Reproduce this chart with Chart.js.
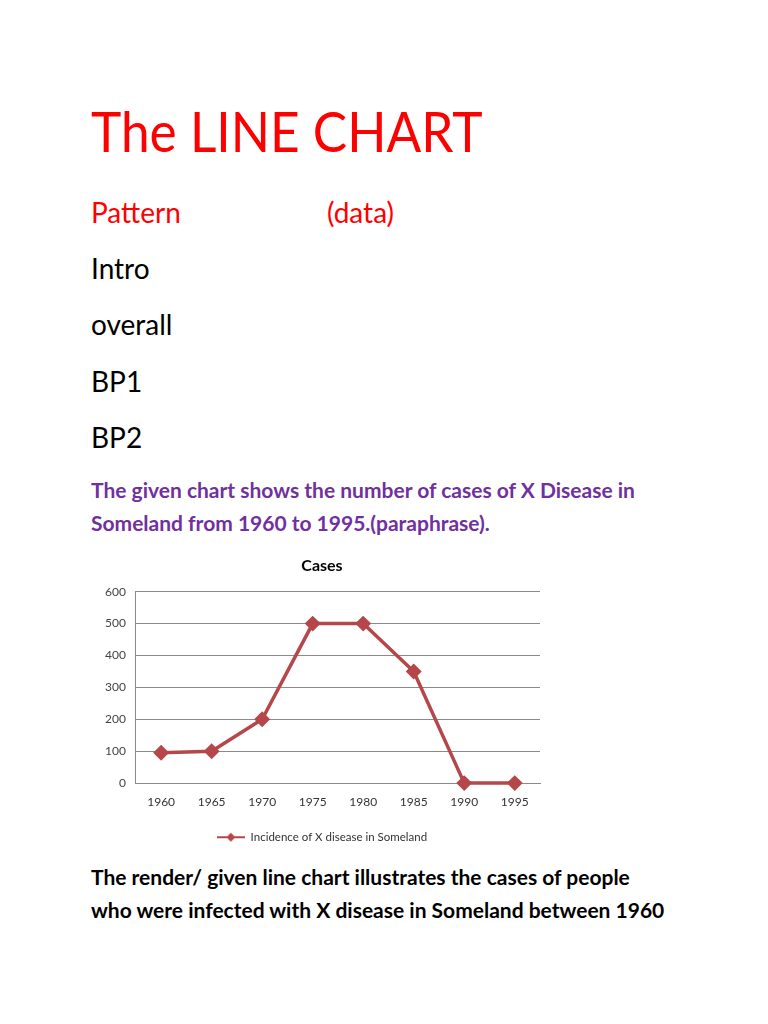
<!DOCTYPE html>
<html>
<head>
<meta charset="utf-8">
<script src="https://cdn.jsdelivr.net/npm/chart.js@4"></script>
<style>
  html, body { margin: 0; padding: 0; background: #fff; }
  body { width: 768px; height: 1024px; position: relative; overflow: hidden; font-family: Lato, "Open Sans", sans-serif; }
  .t { position: absolute; left: 91px; white-space: nowrap; line-height: 1; }
  #title { top: 103px; font-size: 56px; color: #ff0000; transform: scaleX(0.918); transform-origin: 0 0; }
  .red { color: #ff0000; font-size: 28px; }
  .blk { color: #000; font-size: 28px; }
  .pur { color: #7030a0; font-size: 21px; font-weight: bold; }
  .bold { color: #000; font-size: 21px; font-weight: bold; }
  #chartBox { position: absolute; left: 95px; top: 543.5px; width: 454px; height: 309px; }
</style>
</head>
<body>
<div id="title" class="t">The LINE CHART</div>
<div class="t red" style="top:198px;">Pattern</div>
<div class="t red" style="top:198px; left:327px;">(data)</div>
<div class="t blk" style="top:254px;">Intro</div>
<div class="t blk" style="top:310px;">overall</div>
<div class="t blk" style="top:367px;">BP1</div>
<div class="t blk" style="top:423px;">BP2</div>
<div class="t pur" style="top:479px;">The given chart shows the number of cases of X Disease in</div>
<div class="t pur" style="top:512px;">Someland from 1960 to 1995.(paraphrase).</div>
<div id="chartBox"><canvas id="c"></canvas></div>
<div class="t bold" style="top:866px;">The render/ given line chart illustrates the cases of people</div>
<div class="t bold" style="top:899px;">who were infected with X disease in Someland between 1960</div>
<script>
const years = ["1960", "1965", "1970", "1975", "1980", "1985", "1990", "1995"];
const cases = [95, 100, 200, 500, 500, 350, 0, 0];
const yTicks = [0, 100, 200, 300, 400, 500, 600];
const seriesName = "Incidence of X disease in Someland";
const lineColor = "#b5474a";

// legend icon: short line with a diamond
const icon = document.createElement('canvas');
icon.width = 28; icon.height = 12;
(function(){
  const g = icon.getContext('2d');
  g.strokeStyle = lineColor; g.lineWidth = 2;
  g.beginPath(); g.moveTo(0, 6); g.lineTo(28, 6); g.stroke();
  g.fillStyle = lineColor;
  g.beginPath(); g.moveTo(14, 1.5); g.lineTo(18.5, 6); g.lineTo(14, 10.5); g.lineTo(9.5, 6); g.closePath(); g.fill();
})();

Chart.defaults.font.family = 'Lato, "Open Sans", sans-serif';

new Chart(document.getElementById('c'), {
  type: 'line',
  data: {
    labels: years,
    datasets: [{
      label: seriesName,
      data: cases,
      borderColor: lineColor,
      backgroundColor: lineColor,
      borderWidth: 3.5,
      pointStyle: 'rectRot',
      pointRadius: 5.5,
      pointHoverRadius: 5.5,
      pointBackgroundColor: lineColor,
      pointBorderColor: lineColor,
      tension: 0,
      clip: false
    }]
  },
  options: {
    responsive: true,
    maintainAspectRatio: false,
    animation: false,
    layout: { padding: { left: 0, right: 0, top: 0, bottom: 0 } },
    plugins: {
      title: { display: true, text: 'Cases', color: '#000', font: { size: 16, weight: 'bold' }, padding: { top: 12.5, bottom: 16 } },
      legend: {
        position: 'bottom',
        labels: {
          color: '#333', font: { size: 11.5 }, usePointStyle: true, pointStyleWidth: 28, padding: 10,
          generateLabels: (chart) => chart.data.datasets.map((ds, i) => ({
            text: ds.label, pointStyle: icon, fillStyle: lineColor, strokeStyle: lineColor,
            lineWidth: 0, hidden: false, datasetIndex: i, fontColor: '#333'
          }))
        }
      },
      tooltip: { enabled: false }
    },
    scales: {
      x: {
        offset: true,
        grid: { display: false, drawTicks: false },
        border: { display: true, color: '#8a8a8a', width: 1 },
        ticks: { color: '#333', font: { size: 12 }, padding: 12 }
      },
      y: {
        min: 0, max: 600,
        afterBuildTicks: (axis) => { axis.ticks = yTicks.map(v => ({ value: v })); },
        grid: { color: '#8a8a8a', drawTicks: false, lineWidth: 1 },
        border: { display: true, color: '#8a8a8a', width: 1 },
        ticks: { color: '#444', font: { size: 12 }, padding: 10 }
      }
    }
  }
});
</script>
</body>
</html>
